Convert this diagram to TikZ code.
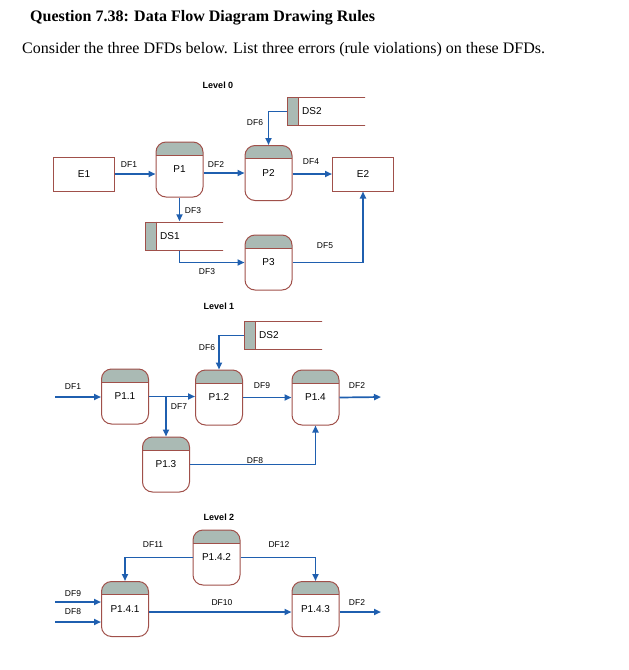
\documentclass[tikz,border=0pt]{standalone}
\usepackage{fontspec}
\setmainfont{Liberation Serif}
\newfontfamily\dfdsans{Liberation Sans}
\usetikzlibrary{arrows.meta}
\definecolor{flowblue}{HTML}{1F5FAF}
\definecolor{edgebrown}{HTML}{A0504A}
\definecolor{topgrey}{HTML}{AABAB4}
\begin{document}
\begin{tikzpicture}[x=1pt,y=-1pt,
  proc/.style={draw=edgebrown, line width=1pt, rounded corners=10pt,
    minimum width=47pt, minimum height=55pt, inner sep=0pt,
    font=\dfdsans\fontsize{10}{11}\selectfont,
    path picture={
      \fill[topgrey, sharp corners] (path picture bounding box.north west) rectangle
        ([yshift=-13pt]path picture bounding box.north east);
      \draw[edgebrown, line width=1pt, sharp corners] ([yshift=-13pt]path picture bounding box.north west) --
        ([yshift=-13pt]path picture bounding box.north east);}},
  ent/.style={draw=edgebrown, line width=1pt, minimum width=61pt, minimum height=34pt,
    inner sep=0pt, font=\dfdsans\fontsize{10}{11}\selectfont},
  store/.style={minimum width=78pt, minimum height=29pt, inner sep=0pt, anchor=west,
    text width=78pt, align=left, font=\dfdsans\fontsize{10}{11}\selectfont,
    path picture={
      \fill[topgrey] ([xshift=0.5pt,yshift=-0.5pt]path picture bounding box.north west) rectangle
        ([xshift=11pt,yshift=0.5pt]path picture bounding box.south west);
      \draw[edgebrown, line width=1pt]
        ([xshift=80pt,yshift=-0.5pt]path picture bounding box.north west) --
        ([xshift=0.5pt,yshift=-0.5pt]path picture bounding box.north west) --
        ([xshift=0.5pt,yshift=0.5pt]path picture bounding box.south west) --
        ([xshift=80pt,yshift=0.5pt]path picture bounding box.south west);
      \draw[edgebrown, line width=1pt]
        ([xshift=11pt]path picture bounding box.north west) --
        ([xshift=11pt]path picture bounding box.south west);}},
  flow/.style={draw=flowblue, line width=1.7pt, -{Triangle[length=7pt,width=6pt]}},
  lbl/.style={font=\dfdsans\fontsize{8.5}{9}\selectfont, inner sep=0pt},
  lvl/.style={font=\dfdsans\bfseries\fontsize{9}{10}\selectfont, inner sep=0pt}]
\useasboundingbox (0,0) rectangle (629,670);

% header
\node[anchor=west, font=\bfseries\fontsize{16}{18}\selectfont, inner sep=0pt] (title) at (30,18)
  {Question 7.38: Data Flow Diagram Drawing Rules};
\node[anchor=west, font=\fontsize{16}{18}\selectfont, inner sep=0pt] (intro) at (22,50)
  {Consider the three DFDs below. List three errors (rule violations) on these DFDs.};

% ---------------- Level 0 ----------------
\node[lvl] (lv0) at (218,85) {Level 0};
\node[ent] (e1) at (84,174) {E1};
\node[ent] (e2) at (363,174) {E2};
\node[proc] (p1) at (179.5,169.5) {\raisebox{-4pt}{P1}};
\node[proc] (p2) at (268.5,173) {\raisebox{-4pt}{P2}};
\node[proc] (p3) at (268.5,262.5) {\raisebox{-4pt}{P3}};
\node[store] (ds2) at (287,111.5) {\hspace*{15pt}DS2};
\node[store] (ds1) at (145,236) {\hspace*{15pt}DS1};

\draw[flow] (e1.east) -- (e1.east -| p1.west);
\draw[flow] (p1.east |- p2.west) -- (p2.west);
\draw[flow] (p2.east |- e2.west) -- (e2.west);
\draw[flow] (ds2.west) -| (p2.north);
\draw[flow] (p1.south) -- (p1.south |- ds1.north);
\draw[flow] (p1.south |- ds1.south) |- (p3.west);
\draw[flow] (p3.east) -| (e2.south);
\node[lbl] (l01) at (129,165) {DF1};
\node[lbl] (l02) at (216,165) {DF2};
\node[lbl] (l04) at (311,162) {DF4};
\node[lbl] (l06) at (255,123) {DF6};
\node[lbl] (l03a) at (193,211) {DF3};
\node[lbl] (l03b) at (207,272) {DF3};
\node[lbl] (l05) at (325,246) {DF5};

% ---------------- Level 1 ----------------
\node[lvl] (lv1) at (219,306) {Level 1};
\node[store] (ds2b) at (244,335.5) {\hspace*{15pt}DS2};
\node[proc] (p11) at (125,396.5) {\raisebox{-4pt}{P1.1}};
\node[proc] (p12) at (219,397.5) {\raisebox{-4pt}{P1.2}};
\node[proc] (p14) at (315.5,397.5) {\raisebox{-4pt}{P1.4}};
\node[proc] (p13) at (166,464.5) {\raisebox{-4pt}{P1.3}};
\coordinate (in11) at (55,397);
\coordinate (out14) at (381,397);

\draw[flow] (in11) -- (in11 -| p11.west);
\draw[flow] (p11.east) -- (p11.east -| p12.west);
\draw[flow] (p11.east -| p13.north) -- (p13.north);
\draw[flow] (ds2b.west) -| (p12.north);
\draw[flow] (p12.east) -- (p14.west);
\draw[flow] (p14.east) -- (out14);
\draw[flow] (p13.east) -| (p14.south);
\node[lbl] (l11) at (73,387) {DF1};
\node[lbl] (l17) at (179,407) {DF7};
\node[lbl] (l16) at (207,348) {DF6};
\node[lbl] (l19) at (262,386) {DF9};
\node[lbl] (l12) at (357,386) {DF2};
\node[lbl] (l18) at (255,461) {DF8};

% ---------------- Level 2 ----------------
\node[lvl] (lv2) at (219,517) {Level 2};
\node[proc] (p142) at (216.5,557.5) {\raisebox{-4pt}{P1.4.2}};
\node[proc] (p141) at (125,609) {\raisebox{-4pt}{P1.4.1}};
\node[proc] (p143) at (315.5,609) {\raisebox{-4pt}{P1.4.3}};
\coordinate (in21) at (55,602);
\coordinate (in22) at (55,622);
\coordinate (out143) at (381,612);

\draw[flow] (p142.west) -| (p141.north);
\draw[flow] (p142.east) -| (p143.north);
\draw[flow] (in21) -- (in21 -| p141.west);
\draw[flow] (in22) -- (in22 -| p141.west);
\draw[flow] ([yshift=-3pt]p141.east) -- ([yshift=-3pt]p143.west);
\draw[flow] ([yshift=-3pt]p143.east) -- (out143);
\node[lbl] (l211) at (153,545) {DF11};
\node[lbl] (l212) at (279,545) {DF12};
\node[lbl] (l29) at (73,594) {DF9};
\node[lbl] (l28) at (73,612) {DF8};
\node[lbl] (l210) at (222,603) {DF10};
\node[lbl] (l22) at (357,603) {DF2};
\end{tikzpicture}
\end{document}
